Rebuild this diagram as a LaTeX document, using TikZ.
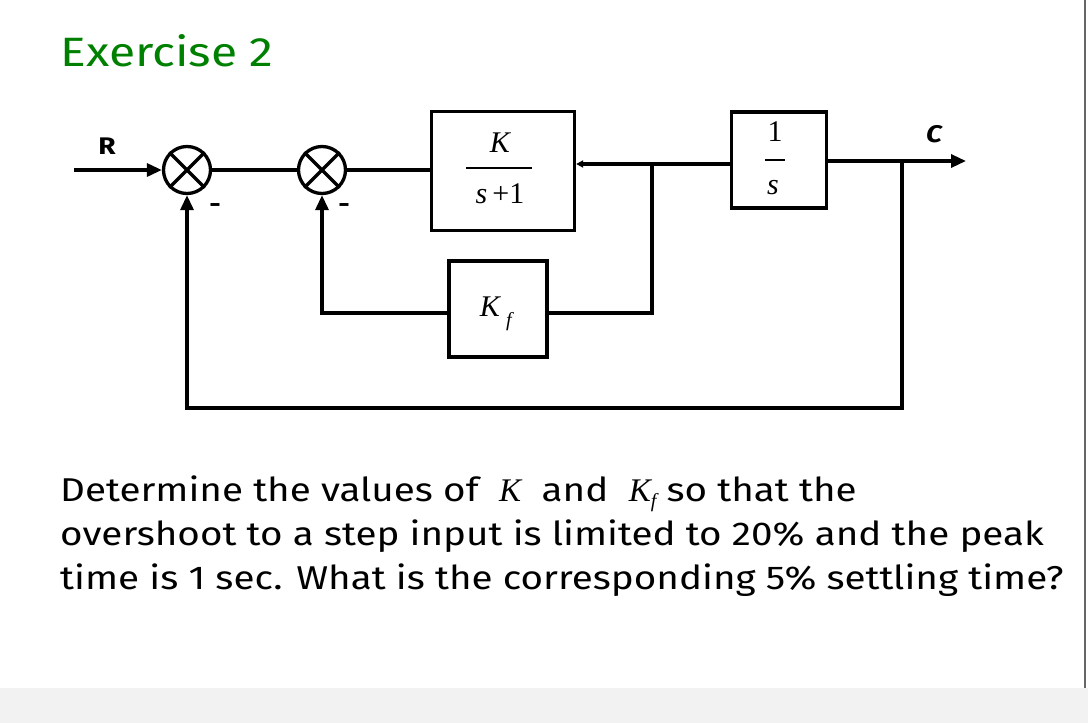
\documentclass[tikz,border=0pt]{standalone}
\usepackage{fontspec}
\setmainfont{Fira Sans}[FakeStretch=1.17]
\newfontfamily\tms{Liberation Serif}
\usetikzlibrary{arrows.meta}
\begin{document}
\begin{tikzpicture}[x=1pt,y=-1pt,
  ln/.style={line width=3.3pt},
  blk/.style={draw,line width=3.3pt,minimum width=#1,inner sep=0pt},
  sumc/.style={draw,circle,line width=3.3pt,minimum size=47pt,inner sep=0pt},
  arr/.style={ln,-{Triangle[length=15pt,width=13pt]}},
  mth/.style={font=\fontsize{30}{30}\selectfont\tms\itshape,inner sep=0pt},
  lab/.style={font=\fontsize{24}{24}\selectfont\bfseries}]
\useasboundingbox (0,0) rectangle (1088,723);
\fill[black!5] (0,688) rectangle (1088,723);
\draw[line width=1.2pt,black!60] (1085,0) -- (1085,688);
\node[anchor=base west,text=green!50!black,font=\fontsize{41}{41}\selectfont] (title) at (57,66) {Exercise 2};
% blocks
\node[sumc] (s1) at (187,170) {};
\node[sumc] (s2) at (322,170) {};
\foreach \s in {s1,s2}{
 \draw[ln] (\s.45)--(\s.225) (\s.135)--(\s.315);}
\node[blk=143pt,minimum height=119pt] (g1) at (503,171) {};
\node[blk=95pt,minimum height=96pt] (g2) at (779,160) {};
\node[blk=98pt,minimum height=96pt] (kf) at (498,309) {};
\node[mth] (gk) at (500,143) {K};
\draw[line width=1.4pt] (466,168) -- (532,168);
\node[mth,font=\fontsize{30}{30}\selectfont\tms] (gs) at (500,194) {\textit{s}\,+1};
\node[mth,font=\fontsize{30}{30}\selectfont\tms] (g2n) at (775,132) {1};
\draw[line width=1.4pt] (765,160) -- (785,160);
\node[mth] (g2d) at (773,188) {s};
\node[mth] (kfk) at (490,307) {K};
\node[mth,font=\fontsize{20}{20}\selectfont\tms\itshape] (kff) at (509,322) {f};
\node[lab] (R) at (107,146) {R};
\node[lab,font=\fontsize{24}{24}\selectfont\bfseries\itshape] (C) at (934,134) {C};
\node[lab] (m1) at (215,208) {-};
\node[lab] (m2) at (344,208) {-};
\coordinate (in) at (74,170);
\coordinate (out) at (966,161);
\coordinate (j1) at (652,164);
\coordinate (j2) at (902,161);
\coordinate (kfl) at (322,313);
\coordinate (bl) at (187,408);
\coordinate (br) at (902,408);
\draw[arr] (in) -- (s1);
\draw[ln] (s1) -- (s2);
\draw[ln] (s2) -- (g1.west |- s2);
\draw[ln,-{Triangle[length=7pt,width=7pt]}] (g2.west |- j1) -- (g1.east |- j1);
\draw[arr] (g2.east |- out) -- (out);
\draw[ln] (j1) -- (j1 |- kfl) -- (kf.east |- kfl);
\draw[arr] (kf.west |- kfl) -- (kfl) -- (s2.south);
\draw[arr] (j2) -- (br) -- (bl) -- (s1.south);
\node[anchor=north west,align=left,inner sep=0pt,font=\fontsize{33}{44}\selectfont] (txt) at (60,476)
{Determine the values of \ {\tms\itshape K}\ \ and\ \ {\tms\itshape K}\raisebox{-6pt}{\fontsize{20}{20}\selectfont\tms\itshape f}\ so that the\\
overshoot to a step input is limited to 20\% and the peak\\
time is 1 sec. What is the corresponding 5\% settling time?};
\end{tikzpicture}
\end{document}
